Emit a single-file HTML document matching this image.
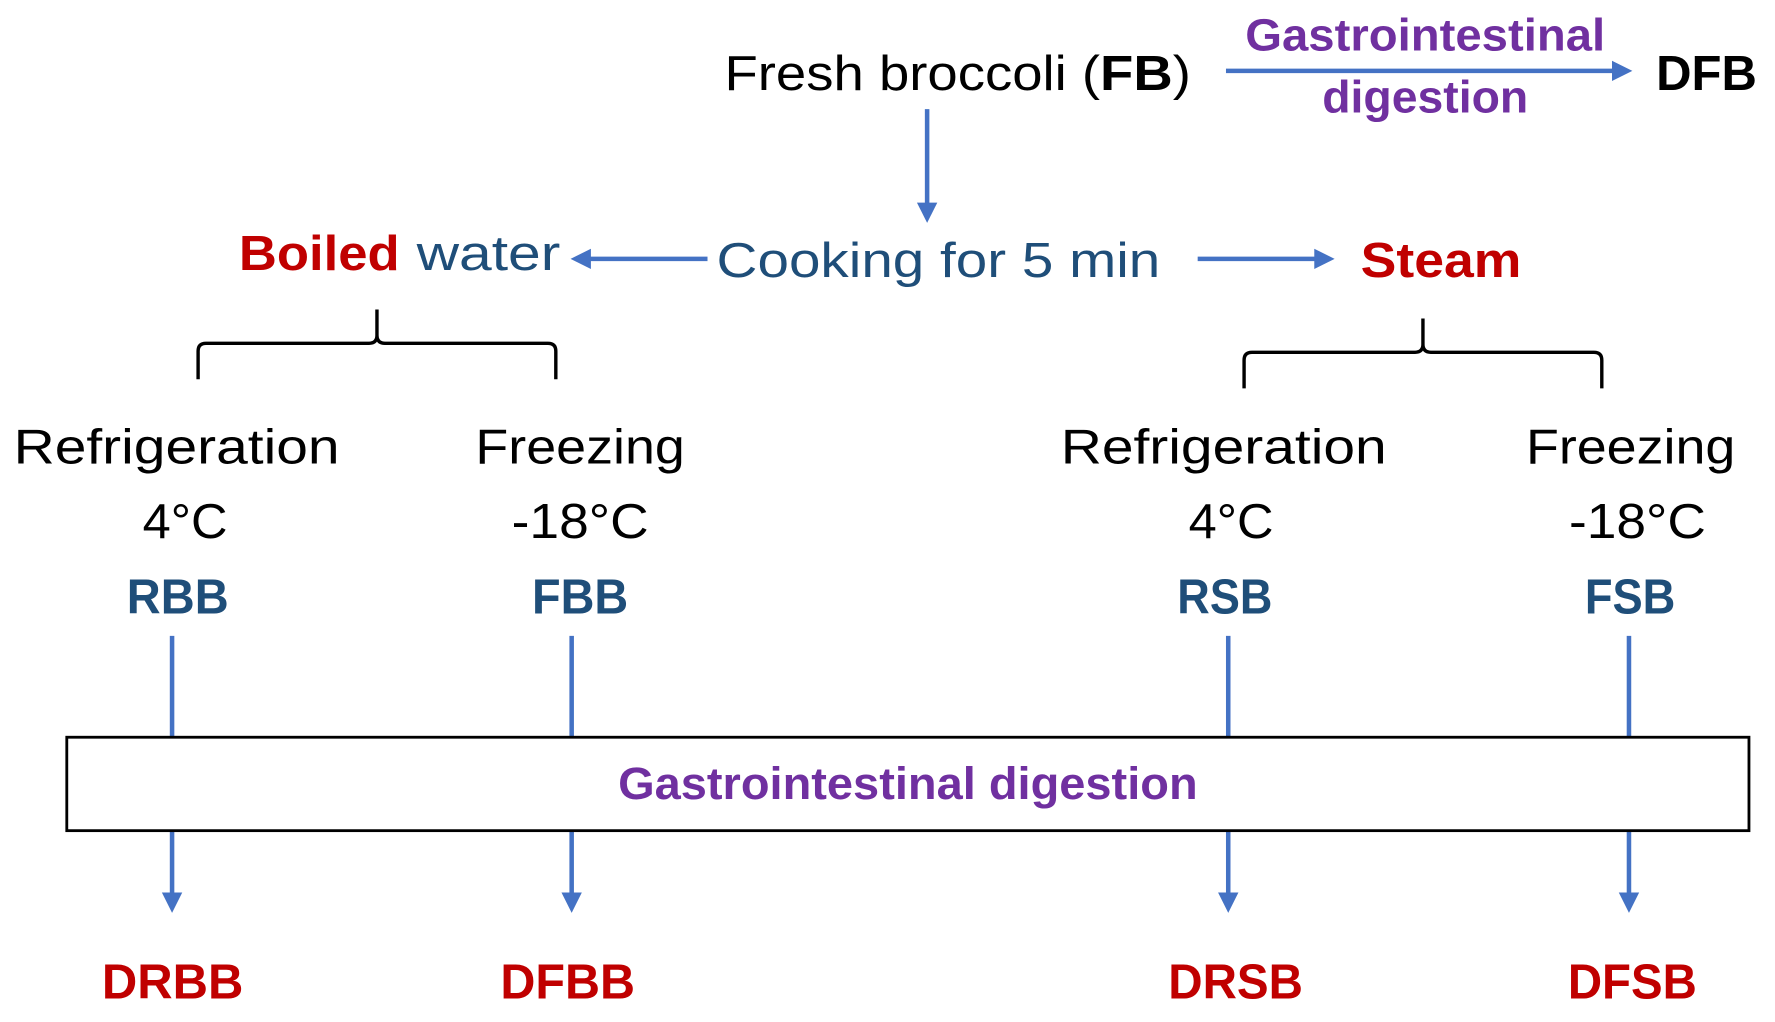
<!DOCTYPE html>
<html><head><meta charset="utf-8"><style>html,body{margin:0;padding:0;background:#fff;}svg{display:block}</style></head>
<body>
<svg width="1775" height="1022" viewBox="0 0 1568 908" preserveAspectRatio="none" xmlns="http://www.w3.org/2000/svg" font-family="Liberation Sans, sans-serif">
<defs>
<marker id="a" markerWidth="10" markerHeight="10" refX="8" refY="5" orient="auto" markerUnits="userSpaceOnUse" viewBox="0 0 10 10">
</marker>
</defs>
<g fill="#4472C4">
<!-- helper arrows drawn manually -->
</g>
<g stroke="#4472C4" stroke-width="4" fill="none">
<line x1="1083" y1="63" x2="1426" y2="63"/>
<line x1="819" y1="97" x2="819" y2="182"/>
<line x1="625" y1="230" x2="520" y2="230"/>
<line x1="1058" y1="230" x2="1163" y2="230"/>
<line x1="152" y1="565" x2="152" y2="655"/><line x1="152" y1="738" x2="152" y2="795"/>
<line x1="505" y1="565" x2="505" y2="655"/><line x1="505" y1="738" x2="505" y2="795"/>
<line x1="1085" y1="565" x2="1085" y2="655"/><line x1="1085" y1="738" x2="1085" y2="795"/>
<line x1="1439" y1="565" x2="1439" y2="655"/><line x1="1439" y1="738" x2="1439" y2="795"/>
</g>
<g fill="#4472C4">
<polygon points="1442,63 1424,54 1424,72"/>
<polygon points="819,198 810,180 828,180"/>
<polygon points="504,230 522,221 522,239"/>
<polygon points="1179,230 1161,221 1161,239"/>
<polygon points="152,811 143,793 161,793"/>
<polygon points="505,811 496,793 514,793"/>
<polygon points="1085,811 1076,793 1094,793"/>
<polygon points="1439,811 1430,793 1448,793"/>
</g>
<g stroke="#000" stroke-width="3" fill="none">
<path d="M175,337 V312 Q175,305 182,305 H326 Q333,305 333,298 V275 M333,298 Q333,305 340,305 H484 Q491,305 491,312 V337"/>
<path d="M1099,345 V320 Q1099,313 1106,313 H1250 Q1257,313 1257,306 V283 M1257,306 Q1257,313 1264,313 H1408 Q1415,313 1415,320 V345"/>
</g>
<rect x="59" y="655" width="1486" height="83" fill="#fff" stroke="#000" stroke-width="2.5"/>
<g font-size="44" lengthAdjust="spacingAndGlyphs">
<text x="640" y="80" textLength="412" lengthAdjust="spacingAndGlyphs" fill="#000">Fresh broccoli (<tspan font-weight="bold">FB</tspan>)</text>
<text x="1100" y="45" textLength="318" lengthAdjust="spacingAndGlyphs" fill="#7030A0" font-weight="bold" font-size="40">Gastrointestinal</text>
<text x="1168" y="100" textLength="182" lengthAdjust="spacingAndGlyphs" fill="#7030A0" font-weight="bold" font-size="40">digestion</text>
<text x="1463" y="80" textLength="89" lengthAdjust="spacingAndGlyphs" fill="#000" font-weight="bold">DFB</text>
<text x="211" y="240" textLength="142" lengthAdjust="spacingAndGlyphs" fill="#C00000" font-weight="bold">Boiled</text>
<text x="368" y="240" textLength="127" lengthAdjust="spacingAndGlyphs" fill="#1F4E79">water</text>
<text x="633" y="246" textLength="392" lengthAdjust="spacingAndGlyphs" fill="#1F4E79">Cooking for 5 min</text>
<text x="1202" y="246" textLength="142" lengthAdjust="spacingAndGlyphs" fill="#C00000" font-weight="bold">Steam</text>
<g fill="#000">
<text x="12" y="412" textLength="288" lengthAdjust="spacingAndGlyphs">Refrigeration</text>
<text x="420" y="412" textLength="185" lengthAdjust="spacingAndGlyphs">Freezing</text>
<text x="126" y="478" textLength="75" lengthAdjust="spacingAndGlyphs">4°C</text>
<text x="452" y="478" textLength="121" lengthAdjust="spacingAndGlyphs">-18°C</text>
<text x="937" y="412" textLength="288" lengthAdjust="spacingAndGlyphs">Refrigeration</text>
<text x="1348" y="412" textLength="185" lengthAdjust="spacingAndGlyphs">Freezing</text>
<text x="1050" y="478" textLength="75" lengthAdjust="spacingAndGlyphs">4°C</text>
<text x="1386" y="478" textLength="121" lengthAdjust="spacingAndGlyphs">-18°C</text>
</g>
<g fill="#1F4E79" font-weight="bold">
<text x="112" y="545" textLength="90" lengthAdjust="spacingAndGlyphs">RBB</text>
<text x="470" y="545" textLength="85" lengthAdjust="spacingAndGlyphs">FBB</text>
<text x="1040" y="545" textLength="84" lengthAdjust="spacingAndGlyphs">RSB</text>
<text x="1400" y="545" textLength="80" lengthAdjust="spacingAndGlyphs">FSB</text>
</g>
<text x="546" y="710" textLength="512" lengthAdjust="spacingAndGlyphs" fill="#7030A0" font-weight="bold" font-size="40">Gastrointestinal digestion</text>
<g fill="#C00000" font-weight="bold">
<text x="90" y="887" textLength="125" lengthAdjust="spacingAndGlyphs">DRBB</text>
<text x="442" y="887" textLength="119" lengthAdjust="spacingAndGlyphs">DFBB</text>
<text x="1032" y="887" textLength="119" lengthAdjust="spacingAndGlyphs">DRSB</text>
<text x="1385" y="887" textLength="114" lengthAdjust="spacingAndGlyphs">DFSB</text>
</g>
</g>
</svg>
</body></html>
